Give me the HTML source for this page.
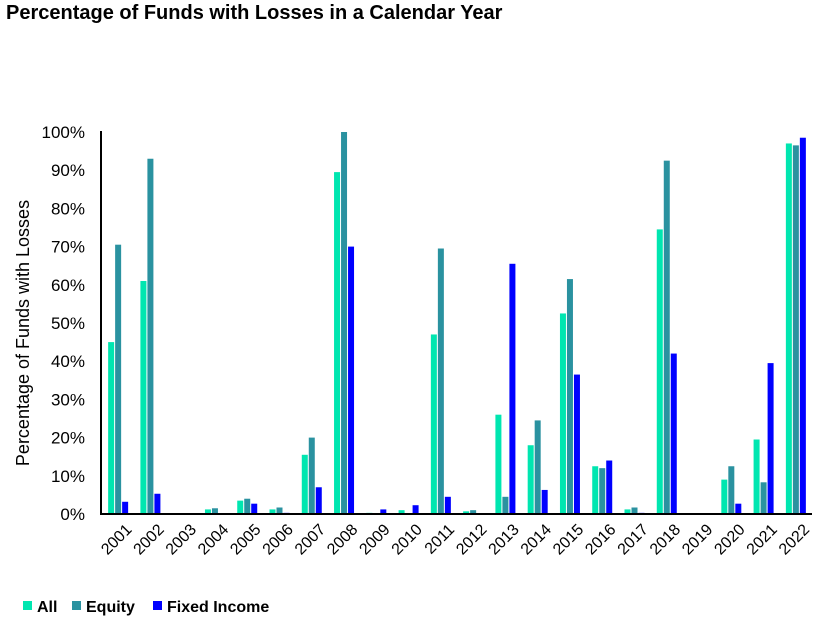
<!DOCTYPE html>
<html><head><meta charset="utf-8"><style>
body{margin:0;background:#fff;font-family:"Liberation Sans",Arial,sans-serif}
</style></head><body>
<svg width="837" height="621" viewBox="0 0 837 621" xmlns="http://www.w3.org/2000/svg" font-family="Liberation Sans, Arial, sans-serif">
<text x="6" y="19" font-size="20" font-weight="bold">Percentage of Funds with Losses in a Calendar Year</text>
<text transform="translate(29,333) rotate(-90)" text-anchor="middle" font-size="18">Percentage of Funds with Losses</text>
<g id="yticks"></g><g id="bars"></g><g id="xticks"></g>
<line x1="101" y1="131" x2="101" y2="515" stroke="#000" stroke-width="2"/>
<line x1="100" y1="514" x2="812" y2="514" stroke="#000" stroke-width="2"/>
<g font-size="16" font-weight="bold">
<g><rect x="23" y="601" width="9" height="9" fill="#00E6B0"/><text x="37" y="612">All</text></g>
<g><rect x="72" y="601" width="9" height="9" fill="#2A92A0"/><text x="86" y="612">Equity</text></g>
<g><rect x="153" y="601" width="9" height="9" fill="#0000FF"/><text x="167" y="612">Fixed Income</text></g>
</g>
</svg>
<script>
const years=["2001","2002","2003","2004","2005","2006","2007","2008","2009","2010","2011","2012","2013","2014","2015","2016","2017","2018","2019","2020","2021","2022"];
const allVals=[45,61,0,1.2,3.5,1.2,15.5,89.5,0.3,1,47,0.7,26,18,52.5,12.5,1.2,74.5,0,9,19.5,97];
const equityVals=[70.5,93,0,1.5,4,1.7,20,100,0,0,69.5,1,4.5,24.5,61.5,12,1.7,92.5,0,12.5,8.3,96.5];
const fixedVals=[3.2,5.3,0,0,2.7,0.3,7,70,1.2,2.3,4.5,0,65.5,6.3,36.5,14,0.3,42,0,2.7,39.5,98.5];
const yTicks=[0,10,20,30,40,50,60,70,80,90,100];
const NS="http://www.w3.org/2000/svg";
const x0=102,x1=812,y0=514,y1=132;
const band=(x1-x0)/years.length;
const yS=v=>y0-(v/100)*(y0-y1);
const xC=i=>x0+band*(i+0.5);
const yt=document.getElementById('yticks');
yTicks.forEach(t=>{const e=document.createElementNS(NS,'text');e.setAttribute('x',85);e.setAttribute('y',yS(t)+6);e.setAttribute('text-anchor','end');e.setAttribute('font-size','17');e.textContent=t+'%';


yt.appendChild(e);});
const bars=document.getElementById('bars');
const series=[[allVals,'#00E6B0','all'],[equityVals,'#2A92A0','equity'],[fixedVals,'#0000FF','fixed-income']];
const bw=6,step=7;
years.forEach((y,i)=>{series.forEach((s,j)=>{const v=s[0][i];const r=document.createElementNS(NS,'rect');
r.setAttribute('x',xC(i)+(j-1)*step-bw/2);r.setAttribute('width',bw);r.setAttribute('y',yS(v));r.setAttribute('height',Math.max(0,y0-yS(v)));r.setAttribute('fill',s[1]);


bars.appendChild(r);});
const t=document.createElementNS(NS,'text');const tx=xC(i)+6,ty=522;
t.setAttribute('transform','translate('+tx+','+ty+') rotate(-45)');t.setAttribute('text-anchor','end');t.setAttribute('font-size','16');t.setAttribute('dy','12');t.textContent=y;


document.getElementById('xticks').appendChild(t);});
</script>
</body></html>
